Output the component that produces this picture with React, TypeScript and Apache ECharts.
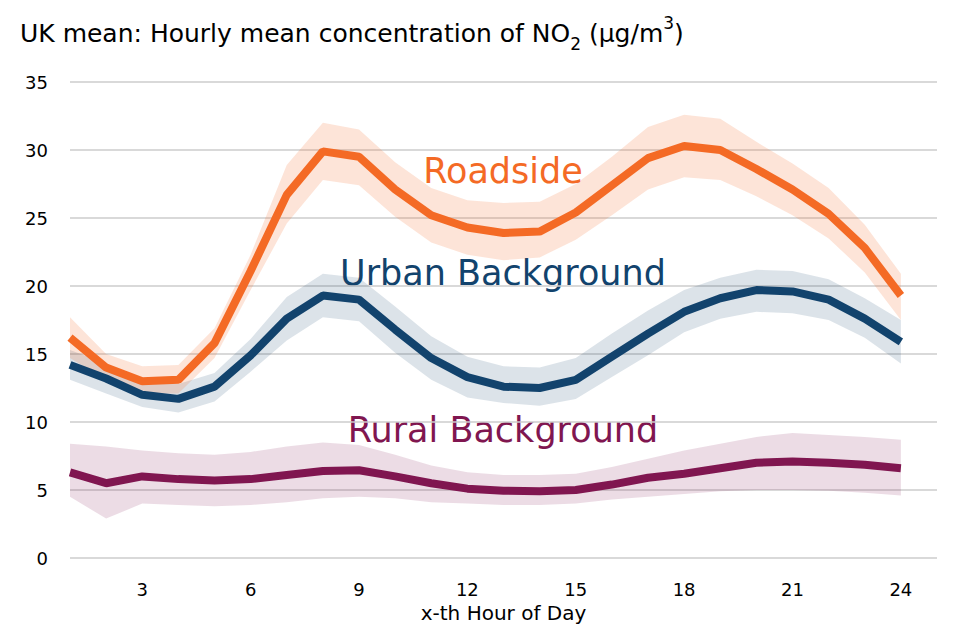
import React, { useEffect, useRef } from "react";
import * as echarts from "echarts";

const hours = [1, 2, 3, 4, 5, 6, 7, 8, 9, 10, 11, 12, 13, 14, 15, 16, 17, 18, 19, 20, 21, 22, 23, 24];
const xTicks = [3, 6, 9, 12, 15, 18, 21, 24];

const roadside = [16.2, 14.0, 13.0, 13.1, 15.8, 21.1, 26.7, 29.9, 29.5, 27.1, 25.2, 24.3, 23.9, 24.0, 25.4, 27.4, 29.4, 30.3, 30.0, 28.6, 27.1, 25.3, 22.8, 19.3];
const roadsideUpper = [17.7, 15.0, 14.1, 14.2, 16.9, 22.3, 28.9, 32.0, 31.5, 29.1, 27.2, 26.3, 26.1, 26.2, 27.5, 29.5, 31.7, 32.6, 32.3, 30.6, 29.0, 27.2, 24.5, 20.9];
const roadsideLower = [14.7, 13.1, 12.1, 12.1, 14.7, 19.7, 24.6, 27.8, 27.4, 25.1, 23.2, 22.3, 21.9, 22.1, 23.4, 25.2, 27.1, 28.0, 27.8, 26.6, 25.2, 23.5, 21.0, 17.5];

const urban = [14.2, 13.2, 12.0, 11.7, 12.6, 14.9, 17.6, 19.3, 19.0, 16.8, 14.7, 13.3, 12.6, 12.5, 13.1, 14.8, 16.5, 18.1, 19.1, 19.7, 19.6, 19.0, 17.6, 15.9];
const urbanUpper = [15.3, 14.3, 13.1, 12.8, 13.6, 16.1, 19.2, 20.9, 20.6, 18.5, 16.3, 14.8, 14.1, 14.0, 14.7, 16.5, 18.2, 19.7, 20.6, 21.2, 21.1, 20.5, 19.1, 17.5];
const urbanLower = [13.1, 12.1, 11.1, 10.7, 11.5, 13.7, 16.0, 17.7, 17.4, 15.1, 13.1, 11.8, 11.4, 11.2, 11.7, 13.3, 14.9, 16.6, 17.6, 18.1, 18.0, 17.5, 16.2, 14.3];

const rural = [6.3, 5.5, 6.0, 5.8, 5.7, 5.8, 6.1, 6.4, 6.45, 6.0, 5.5, 5.1, 4.95, 4.9, 5.0, 5.4, 5.9, 6.2, 6.6, 7.0, 7.1, 7.0, 6.85, 6.6];
const ruralUpper = [8.4, 8.2, 7.9, 7.7, 7.6, 7.8, 8.2, 8.5, 8.3, 7.6, 6.8, 6.3, 6.1, 6.1, 6.2, 6.7, 7.3, 7.9, 8.4, 8.9, 9.2, 9.05, 8.9, 8.7];
const ruralLower = [4.5, 2.9, 4.0, 3.9, 3.8, 3.9, 4.1, 4.4, 4.5, 4.4, 4.1, 4.0, 3.9, 3.9, 4.0, 4.3, 4.5, 4.7, 4.9, 5.0, 5.0, 4.95, 4.8, 4.6];

const FONT = "DejaVu Sans";
const ORANGE = "#f46a25";
const BLUE = "#12436d";
const PURPLE = "#801650";

function bandSeries(lower: number[], upper: number[], color: string, opacity: number) {
  return {
    type: "custom",
    silent: true,
    clip: true,
    data: hours.map((h, i) => [h, lower[i], upper[i]]),
    encode: { x: 0, y: [1, 2] },
    renderItem: (params: any, api: any) => {
      if (params.dataIndex !== 0) return null;
      const up = hours.map((h, i) => api.coord([h, upper[i]]));
      const lo = hours.map((h, i) => api.coord([h, lower[i]])).reverse();
      return {
        type: "polygon",
        shape: { points: up.concat(lo) },
        style: { fill: color, opacity },
      };
    },
  };
}

function lineSeries(name: string, values: number[], color: string) {
  return {
    type: "line",
    name,
    data: hours.map((h, i) => [h, values[i]]),
    showSymbol: false,
    symbol: "none",
    silent: true,
    lineStyle: { width: 8, color },
    itemStyle: { color },
  };
}

export default function App() {
  const ref = useRef<HTMLDivElement>(null);
  useEffect(() => {
    if (!ref.current) return;
    const chart = echarts.init(ref.current, null, { renderer: "svg" });
    chart.setOption({
      animation: false,
      backgroundColor: "#ffffff",
      textStyle: { fontFamily: FONT },
      title: {
        left: 20,
        top: 14,
        padding: 0,
        text: "{a|UK mean: Hourly mean concentration of NO}{sub|2}{a| (μg/m}{sup|3}{a|)}",
        textStyle: {
          fontWeight: "normal",
          rich: {
            a: { fontFamily: FONT, fontSize: 25, fontWeight: "normal", color: "#000", lineHeight: 38 },
            sub: { fontFamily: FONT, fontSize: 17, fontWeight: "normal", color: "#000", lineHeight: 16, verticalAlign: "bottom" },
            sup: { fontFamily: FONT, fontSize: 17, fontWeight: "normal", color: "#000", lineHeight: 16, verticalAlign: "top" },
          },
        },
      },
      grid: { left: 70, right: 23, top: 82, bottom: 82 },
      xAxis: {
        type: "value",
        min: 1,
        max: 25,
        name: "x-th Hour of Day",
        nameLocation: "middle",
        nameGap: 40,
        nameTextStyle: { fontFamily: FONT, fontSize: 20, color: "#000" },
        axisLine: { show: false },
        axisTick: { show: false },
        splitLine: { show: false },
        axisLabel: {
          customValues: xTicks,
          fontFamily: FONT,
          fontSize: 18,
          color: "#000",
          margin: 22,
        },
      },
      yAxis: {
        type: "value",
        min: 0,
        max: 35,
        interval: 5,
        axisLine: { show: false },
        axisTick: { show: false },
        splitLine: { show: true, lineStyle: { color: "#cccccc", width: 1.5 } },
        axisLabel: { fontFamily: FONT, fontSize: 18, color: "#000", margin: 22 },
      },
      series: [
        bandSeries(ruralLower, ruralUpper, PURPLE, 0.15),
        lineSeries("Rural Background", rural, PURPLE),
        bandSeries(urbanLower, urbanUpper, BLUE, 0.15),
        lineSeries("Urban Background", urban, BLUE),
        bandSeries(roadsideLower, roadsideUpper, ORANGE, 0.18),
        lineSeries("Roadside", roadside, ORANGE),
      ],
      graphic: [
        {
          type: "text",
          x: 503,
          y: 171,
          style: { text: "Roadside", fontFamily: FONT, fontSize: 35, fill: ORANGE, align: "center", verticalAlign: "middle" },
        },
        {
          type: "text",
          x: 503,
          y: 273,
          style: { text: "Urban Background", fontFamily: FONT, fontSize: 35, fill: BLUE, align: "center", verticalAlign: "middle" },
        },
        {
          type: "text",
          x: 503,
          y: 430,
          style: { text: "Rural Background", fontFamily: FONT, fontSize: 35, fill: PURPLE, align: "center", verticalAlign: "middle" },
        },
      ],
    });
    return () => chart.dispose();
  }, []);
  return <div ref={ref} style={{ position: "fixed", left: 0, top: 0, width: 960, height: 640 }} />;
}
